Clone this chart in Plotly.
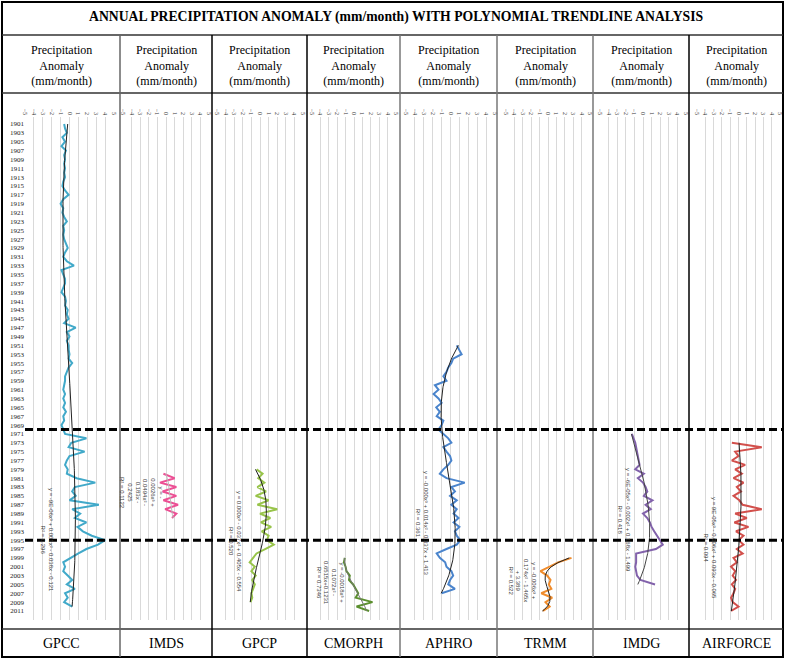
import numpy as np
import plotly.graph_objects as go

W, H = 785, 660

# ---------------- data ----------------
datasets = ["GPCC", "IMDS", "GPCP", "CMORPH", "APHRO", "TRMM", "IMDG", "AIRFORCE"]
value_ticks = [-5, -4, -3, -2, -1, 0, 1, 2, 3, 4, 5]
year_ticks = list(range(1901, 2012, 2))
dash_years = [1970, 1995]

gpcc_years = list(range(1901, 2011))
gpcc_values = [
    -0.6, -0.5, -0.3, -0.8, -0.5, -0.9, -0.4, -0.6, -0.5, -0.6,
    -0.5, -0.6, -0.5, -0.7, -0.8, -0.5, -0.1, -0.7, -1.0, -0.7,
    -0.8, -0.6, -0.3, -0.7, -0.6, -0.7, -0.6, -0.4, -0.2, -0.5,
    -0.7, -0.3, 0.5, -0.9, -0.7, -0.5, -0.5, -0.7, -0.9, -0.5,
    -0.4, -0.5, -0.2, -0.3, -0.1, -0.6, 0.7, -0.3, 0.0, -0.3,
    -0.1, -0.1, 0.0, -0.1, 0.3, -0.1, -0.3, -0.5, -0.5, -0.6,
    -0.7, -0.5, -0.7, -0.5, -0.7, -0.4, -0.7, -0.6, -0.9, -0.7,
    -0.5, 1.9, 0.2, -0.1, 1.7, 0.0, -0.3, -0.5, -0.2, -0.3,
    0.8, 2.9, 0.6, 0.3, 0.7, 0.0, 3.3, 0.3, 1.2, 0.6,
    1.9, 0.9, 1.5, 2.5, 4.0, 3.2, 1.9, 1.0, 0.2, -0.7,
    -0.5, -0.7, -0.2, 0.3, -0.3, 0.6, -0.5, -0.2, -0.6, 0.3,
]

imds_years = list(range(1980, 1991))
imds_values = [-0.3, 1.0, -0.7, 1.2, -0.4, 1.2, -0.3, 1.4, -0.1, 1.2, 0.7]

gpcp_years = list(range(1979, 2010))
gpcp_values = [
    -0.4, 0.3, -0.2, 0.5, -0.3, 0.7, -0.5, 1.0, -0.3, 2.0,
    0.0, 1.2, 0.1, 1.3, 0.2, 1.0, 0.8, 1.6, 0.6, -0.4,
    -0.8, -1.2, -0.6, -1.0, -0.5, -0.9, -0.6, -0.8, -1.0, -0.9, -1.1,
]

cmorph_years = list(range(1999, 2012))
cmorph_values = [-1.1, -1.2, -1.0, -0.9, -0.5, -0.6, -0.1, 0.2, 0.5, 0.2, 2.2, 0.3, 1.8]

aphro_years = list(range(1951, 2008))
aphro_values = [
    0.7, 1.0, 1.25, 0.3, 0.1, -0.25, -0.45, -0.8, -0.45, -1.75,
    -1.35, -1.9, -1.35, -1.0, -1.6, -1.2, -1.55, -0.8, -1.0, -1.35,
    -0.8, -0.25, 0.1, -0.8, -0.45, -0.05, 0.1, -0.25, -0.8, -1.2,
    -0.45, 1.6, 0.1, 0.5, -0.05, 0.7, 0.1, 0.7, 0.35, 0.9,
    0.35, 1.0, 0.5, 0.7, 1.1, 0.7, -0.45, -1.55, -1.2, -0.6,
    -0.45, 0.1, 0.3, -0.05, -0.25, 0.5, -1.0,
]

trmm_years = list(range(1999, 2012))
trmm_values = [2.8, 1.2, 0.2, -0.9, -0.1, 0.3, 0.1, 0.4, -0.8, 0.5, -0.3, 0.2, -0.6]

imdg_years = list(range(1971, 2006))
imdg_values = [
    -1.3, -1.1, -0.9, -0.8, -0.7, -0.65, -0.5, -0.4, -0.9, 0.1,
    -0.6, 0.0, 0.3, 0.5, 0.1, 1.1, 0.3, 0.9, 0.0, 0.5,
    0.8, 1.0, 1.3, 1.6, 2.0, 2.3, 1.5, -0.8, -0.8, -0.8,
    -0.9, -0.8, -0.7, -0.3, 1.4,
]

airforce_years = list(range(1973, 2012))
airforce_values = [
    -0.8, 2.8, -0.4, 0.0, -0.8, 0.8, -0.4, 0.4, -0.6, 0.6,
    -0.2, 0.3, -0.6, 0.1, 0.5, 2.8, -0.4, 1.0, -0.5, 1.2,
    -0.3, 0.6, 0.0, 0.6, -0.2, 0.5, -0.6, -0.2, -0.9, -0.4,
    -0.7, -0.3, -0.8, -0.4, -0.6, -0.9, -0.7, 0.0, -0.9,
]

equations = [
    "y = -9E-06x³ + 0.001x² - 0.038x - 0.121<br>R² = 0.296",
    "y = -<br>0.0026x³ +<br>0.0494x² -<br>0.183x -<br>0.2425<br>R² = 0.1122",
    "y = 0.000x³ - 0.037x² + 0.405x - 0.554<br>R² = 0.520",
    "y = -0.0018x³ +<br>0.1072x² -<br>0.6515x+0.1231<br>R² = 0.7346",
    "y = -0.000x³ + 0.014x² - 0.337x + 1.413<br>R² = 0.361",
    "y = -0.006x³ +<br>0.174x² - 1.465x<br>+ 3.389<br>R² = 0.522",
    "y = -6E-05x³ - 0.002x² + 0.168x - 1.499<br>R² = 0.418",
    "y = 9E-05x³ - 0.006x² + 0.093x - 0.065<br>R² = 0.094",
]

series = [
    (gpcc_years, gpcc_values, "#41a9c9", "#222222"),
    (imds_years, imds_values, "#ec4f94", "#bbbbbb"),
    (gpcp_years, gpcp_values, "#98c44a", "#222222"),
    (cmorph_years, cmorph_values, "#5b8f2e", "#777777"),
    (aphro_years, aphro_values, "#4a84cc", "#222222"),
    (trmm_years, trmm_values, "#f08c2c", "#222222"),
    (imdg_years, imdg_values, "#8262ab", "#444444"),
    (airforce_years, airforce_values, "#d24f4b", "#222222"),
]

# ---------------- layout geometry (pixels) ----------------
def fx(px):
    return px / W


def fy(py):
    return 1 - py / H


panel_px = [(25, 114), (123, 209), (217, 303), (312, 396),
            (406, 495), (506, 590), (600, 686), (697, 780)]
col_edges = [2, 120, 212, 307, 400, 497, 593, 689, 783]
eq_pos = [(47, 540), (142, 493), (235, 541), (331, 583),
          (422, 523), (523, 580), (624, 520), (710, 548)]

y_1901, y_2011 = 124, 611
per_year = (y_2011 - y_1901) / 110.0
plot_top, plot_bot = 117, 620


def year_at(py):
    return 1901 + (py - y_1901) / per_year


fig = go.Figure()

for i, (yrs, vals, col, tcol) in enumerate(series):
    xa = "x" if i == 0 else "x%d" % (i + 1)
    fig.add_trace(go.Scatter(x=vals, y=yrs, mode="lines", xaxis=xa, yaxis="y",
                             line=dict(color=col, width=2), hoverinfo="skip"))
    # polynomial (order 3) trendline, like the Excel one
    idx = np.arange(1, len(vals) + 1)
    coef = np.polyfit(idx, vals, 3)
    fine = np.linspace(1, len(vals), 200)
    fig.add_trace(go.Scatter(x=np.polyval(coef, fine), y=yrs[0] + fine - 1, mode="lines",
                             xaxis=xa, yaxis="y", line=dict(color=tcol, width=1),
                             hoverinfo="skip"))

layout = dict(
    width=W, height=H, margin=dict(l=0, r=0, t=0, b=0, autoexpand=False),
    paper_bgcolor="white", plot_bgcolor="white", showlegend=False,
    font=dict(family="Liberation Serif", color="black"),
    yaxis=dict(domain=[fy(plot_bot), fy(plot_top)],
               range=[year_at(plot_bot), year_at(plot_top)],
               anchor="x", tickvals=year_ticks, ticks="", showgrid=False,
               zeroline=False, showline=False, automargin=False,
               tickfont=dict(family="Liberation Serif", size=7, color="#222")),
)
for i, (a, b) in enumerate(panel_px):
    key = "xaxis" if i == 0 else "xaxis%d" % (i + 1)
    layout[key] = dict(domain=[fx(a), fx(b)], range=[-5, 5], anchor="y", side="top",
                       tickvals=value_ticks, tickangle=90, ticks="",
                       showgrid=True, gridcolor="#d9d9d9", gridwidth=1,
                       zeroline=False, showline=False, automargin=False,
                       tickfont=dict(family="Liberation Serif", size=6, color="#333"))
fig.update_layout(**layout)

# table frame
shapes = [
    dict(type="rect", xref="paper", yref="paper", x0=fx(2), x1=fx(783), y0=fy(657), y1=fy(2),
         line=dict(color="black", width=2)),
]
for py in (35, 93, 629):
    shapes.append(dict(type="line", xref="paper", yref="paper", x0=fx(2), x1=fx(783),
                       y0=fy(py), y1=fy(py), line=dict(color="#333", width=1.5)))
divider_cols = ["#666", "black", "black", "#777", "#777", "#777", "black"]
for px, c in zip(col_edges[1:-1], divider_cols):
    shapes.append(dict(type="line", xref="paper", yref="paper", x0=fx(px), x1=fx(px),
                       y0=fy(657), y1=fy(35), line=dict(color=c, width=1.5)))
for yr in dash_years:
    shapes.append(dict(type="line", xref="paper", yref="y", x0=fx(25), x1=fx(783),
                       y0=yr, y1=yr, line=dict(color="black", width=3, dash="8px,4px")))
fig.update_layout(shapes=shapes)


def label(text, px, py, size, family="Liberation Serif", angle=0, color="black"):
    return dict(text=text, xref="paper", yref="paper", x=fx(px), y=fy(py),
                xanchor="center", yanchor="middle", showarrow=False, textangle=angle,
                font=dict(family=family, size=size, color=color))


ann = [label("<b>ANNUAL PRECIPITATION ANOMALY (mm/month) WITH POLYNOMIAL TRENDLINE ANALYSIS</b>",
             396, 17, 13.7)]
for i, name in enumerate(datasets):
    cx = (col_edges[i] + col_edges[i + 1]) / 2
    ann.append(label("Precipitation<br>Anomaly<br>(mm/month)", cx, 65, 12))
    ann.append(label(name, cx, 643, 14))
    ex, ey = eq_pos[i]
    ann.append(label(equations[i], ex, ey, 6, family="Liberation Sans", angle=90,
                     color="#404040"))
fig.update_layout(annotations=ann)

# the page's default 8px body margin would shift the whole table
fig.write_html("out.html", config={"displayModeBar": False},
               post_script="document.body.style.margin='0px';")
